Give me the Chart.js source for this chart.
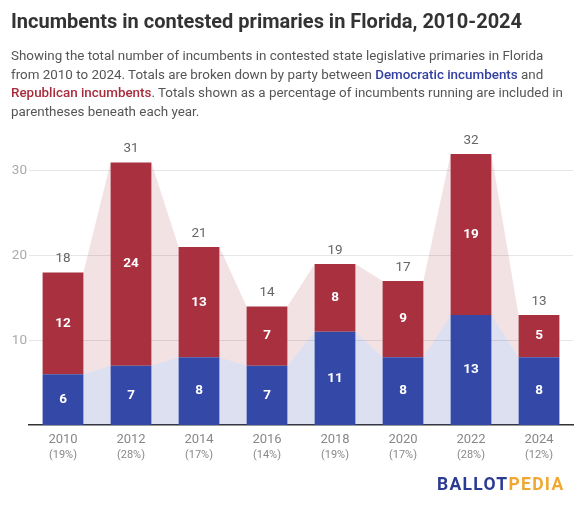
<!DOCTYPE html>
<html>
<head>
<meta charset="utf-8">
<script src="https://cdn.jsdelivr.net/npm/chart.js@4"></script>
<style>
  html, body { margin:0; padding:0; background:#fff; }
  body { width:580px; height:508px; position:relative; overflow:hidden; font-family: Roboto, "Noto Sans", sans-serif; }
  #title { position:absolute; left:11px; top:9px; font-size:20px; font-weight:700; color:#333; white-space:nowrap; }
  #sub { position:absolute; left:11px; top:47px; font-size:13.4px; line-height:18.5px; color:#555; white-space:nowrap; }
  #sub .dem { color:#3340a3; font-weight:500; }
  #sub .rep { color:#a92c3c; font-weight:500; }
  #logo { position:absolute; left:437px; top:474px; font-size:17.5px; font-weight:700; letter-spacing:1.3px; white-space:nowrap; }
  #logo .b { color:#2b3a92; }
  #logo .p { color:#f0a832; }
  canvas { position:absolute; left:0; top:0; }
</style>
</head>
<body>
<canvas id="c" width="580" height="508"></canvas>
<div id="title">Incumbents in contested primaries in Florida, 2010-2024</div>
<div id="sub">Showing the total number of incumbents in contested state legislative primaries in Florida<br>from 2010 to 2024. Totals are broken down by party between <span class="dem">Democratic incumbents</span> and<br><span class="rep">Republican incumbents</span>. Totals shown as a percentage of incumbents running are included in<br>parentheses beneath each year.</div>
<div id="logo"><span class="b">BALLOT</span><span class="p">PEDIA</span></div>
<script>
const years = ['2010','2012','2014','2016','2018','2020','2022','2024'];
const percents = ['(19%)','(28%)','(17%)','(14%)','(19%)','(17%)','(28%)','(12%)'];
const democratic = [6, 7, 8, 7, 11, 8, 13, 8];
const republican = [12, 24, 13, 7, 8, 9, 19, 5];
const yTicks = [10, 20, 30];

const DEM = '#3448a8';
const REP = '#a9303f';
const DEM_AREA = 'rgba(52,72,168,0.17)';
const REP_AREA = 'rgba(170,48,64,0.14)';

const areaPlugin = {
  id: 'areas',
  beforeDatasetsDraw(chart) {
    const ctx = chart.ctx;
    const mD = chart.getDatasetMeta(0).data;
    const mR = chart.getDatasetMeta(1).data;
    const y = chart.scales.y;
    const y0 = y.getPixelForValue(0);
    ctx.save();
    for (let i = 0; i < mD.length - 1; i++) {
      const a = mD[i], b = mD[i+1];
      const xr = a.x + a.width/2, xl = b.x - b.width/2;
      const d1 = mD[i].y, d2 = mD[i+1].y;
      const t1 = mR[i].y, t2 = mR[i+1].y;
      ctx.fillStyle = DEM_AREA;
      ctx.beginPath();
      ctx.moveTo(xr, y0); ctx.lineTo(xr, d1); ctx.lineTo(xl, d2); ctx.lineTo(xl, y0); ctx.closePath();
      ctx.fill();
      ctx.fillStyle = REP_AREA;
      ctx.beginPath();
      ctx.moveTo(xr, d1); ctx.lineTo(xr, t1); ctx.lineTo(xl, t2); ctx.lineTo(xl, d2); ctx.closePath();
      ctx.fill();
    }
    ctx.restore();
  }
};

const labelPlugin = {
  id: 'labels',
  afterDatasetsDraw(chart) {
    const ctx = chart.ctx;
    const mD = chart.getDatasetMeta(0).data;
    const mR = chart.getDatasetMeta(1).data;
    ctx.save();
    ctx.textAlign = 'center';
    ctx.textBaseline = 'middle';
    for (let i = 0; i < mD.length; i++) {
      ctx.fillStyle = '#fff';
      ctx.font = 'bold 13.5px Roboto';
      const d = mD[i], r = mR[i];
      ctx.fillText(String(democratic[i]), d.x, (d.y + d.base)/2);
      ctx.fillText(String(republican[i]), r.x, (r.y + r.base)/2);
      ctx.fillStyle = '#666';
      ctx.font = '13.5px Roboto';
      ctx.fillText(String(democratic[i] + republican[i]), r.x, r.y - 13.5);
    }
    ctx.restore();
  }
};

new Chart(document.getElementById('c'), {
  type: 'bar',
  data: {
    labels: years,
    datasets: [
      { label: 'Democratic incumbents', data: democratic, backgroundColor: DEM, stack: 's' },
      { label: 'Republican incumbents', data: republican, backgroundColor: REP, stack: 's' }
    ]
  },
  options: {
    responsive: false,
    animation: false,
    devicePixelRatio: 1,
    layout: { padding: { top: 137, right: 7, bottom: 42, left: 0 } },
    plugins: { legend: { display: false }, tooltip: { enabled: false } },
    datasets: { bar: { categoryPercentage: 1, barPercentage: 0.6 } },
    scales: {
      x: {
        stacked: true,
        weight: 0,
        grid: { display: false, drawTicks: false },
        border: { color: '#333', width: 1.5 },
        ticks: { color: '#888', font: { family: 'Roboto', size: 13 }, padding: 7, maxRotation: 0 },
        afterFit(s) { s.height = 23; }
      },
      x2: {
        type: 'category',
        position: 'bottom',
        labels: percents,
        weight: 1,
        grid: { display: false, drawTicks: false },
        border: { display: false },
        ticks: { color: '#888', font: { family: 'Roboto', size: 11 }, padding: 1, maxRotation: 0 },
        afterFit(s) { s.height = 18; }
      },
      y: {
        stacked: true,
        min: 0,
        max: 34,
        border: { display: false },
        grid: { color: '#e6e6e6', drawTicks: false, lineWidth: 1 },
        ticks: { color: '#aaa', font: { family: 'Roboto', size: 13.5 }, padding: 2 },
        afterBuildTicks(s) { s.ticks = yTicks.map(v => ({ value: v })); },
        afterFit(s) { s.width = 29; }
      }
    }
  },
  plugins: [areaPlugin, labelPlugin]
});
</script>
</body>
</html>
